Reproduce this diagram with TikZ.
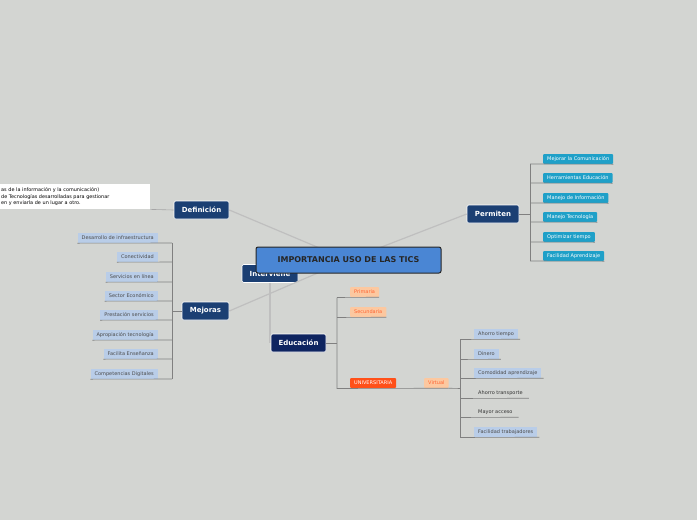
\documentclass[tikz,border=0pt]{standalone}
\usepackage{fontspec}
\setmainfont{DejaVu Sans}
\definecolor{nav}{HTML}{1B3F73}
\definecolor{edc}{HTML}{0E2460}
\definecolor{cenc}{HTML}{4A86D4}
\definecolor{orf}{HTML}{FCC8A0}
\definecolor{ort}{HTML}{FF6432}
\definecolor{uni}{HTML}{FF5019}
\definecolor{lbl}{HTML}{B9CDE8}
\definecolor{tql}{HTML}{1FA0C8}
\definecolor{bgc}{HTML}{D3D5D2}
\begin{document}
\begin{tikzpicture}[x=1pt,y=-1pt,
  main/.style={draw=white,line width=0.6pt,rounded corners=1.5pt,fill=#1,text=white,font=\fontsize{7}{8}\selectfont\bfseries,minimum height=18pt,inner xsep=5pt},
  main/.default=nav,
  leaf/.style={fill=#1,font=\fontsize{5}{6}\selectfont,text=black!70,minimum height=10pt,inner xsep=4pt,inner ysep=1pt},
  leaf/.default=lbl,
  tq/.style={leaf=tql,text=white,rounded corners=1pt},
  og/.style={leaf=orf,text=ort,rounded corners=1pt},
  ln/.style={draw=black!50,line width=0.6pt},
  hub/.style={draw=black!25,line width=1.2pt}]
\fill[bgc] (0,0) rectangle (697,520);
\coordinate (c) at (348,260);
\node[main=nav,minimum width=56pt] (int) at (270,273.5) {Interviene};
\node[main=nav,minimum width=55pt] (def) at (201.5,210) {Definición};
\node[main=nav,minimum width=47pt] (mej) at (205.5,311) {Mejoras};
\node[main=nav,minimum width=52pt] (per) at (493,214) {Permiten};
\coordinate (ec) at (270,343);
\draw[hub] (int.south) -- (ec);
\node[main=edc,minimum width=55pt] (edu) at (298.5,343) {Educación};
\draw[hub] (c) -- (def.east);
\draw[hub] (c) -- (mej.east);
\draw[hub] (c) -- (per.west);
\draw[hub] (c) -- (int.north);
\node[draw=black!85,line width=1pt,rounded corners=2pt,fill=cenc,font=\fontsize{8}{9}\selectfont\bfseries,text=black!85,minimum width=185pt,minimum height=26pt] (cen) at (348.5,260) {IMPORTANCIA USO DE LAS TICS};
\node[fill=white,anchor=north west,text width=148pt,minimum height=25pt,align=left,font=\fontsize{4.9}{6.2}\selectfont,inner xsep=1pt] (dtx) at (0,184) {as de la información y la comunicación)\\de Tecnologías desarrolladas para gestionar\\en y enviarla de un lugar a otro.};
\draw[ln,draw=black!35] (dtx.south east) -- (def.west);
% Mejoras
\coordinate (mb) at (172,311);
\draw[ln] (mej.west) -- (mb);
\foreach \t/\y [count=\i] in {Desarrollo de infraestructura/238,Conectividad/257,Servicios en línea/277,Sector Económico/296,Prestación servicios/315,Apropiación tecnología/335,Facilita Enseñanza/354,Competencias Digitales/374}{
  \node[leaf,anchor=east] (m\i) at (158,\y) {\t};
  \draw[ln] (m\i.south west) -- (172,\y+5);
}
\draw[ln] (172,243) -- (172,379);
% Permiten
\draw[ln] (per.east) -- (530,214);
\foreach \t/\y [count=\i] in {Mejorar la Comunicación/159,Herramientas Educación/178,Manejo de Información/198,Manejo Tecnología/217,Optimizar tiempo/237,Facilidad Aprendizaje/256}{
  \node[tq,anchor=west] (p\i) at (543,\y) {\t};
  \draw[ln] (p\i.south east) -- (530,\y+5);
}
\draw[ln] (530,164) -- (530,261);
% Educacion
\draw[ln] (edu.east) -- (337,343);
\node[og,anchor=west] (e1) at (350,292) {Primaria};
\node[og,anchor=west] (e2) at (350,312) {Secundaria};
\node[leaf=uni,text=white,anchor=west,rounded corners=1pt] (e3) at (350,383) {UNIVERSITARIA};
\node[og,anchor=west] (vir) at (424,383) {Virtual};
\draw[ln] (e1.south east) -- (337,297.5);
\draw[ln] (e2.south east) -- (337,317.5);
\draw[ln] (337,297.5) -- (337,388.5) -- (vir.south east);
\draw[ln] (vir.south east) -- (460,388.5);
\draw[ln] (460,339.5) -- (460,437.5);
\foreach \t/\y/\f [count=\i] in {Ahorro tiempo/334/1,Dinero/354/1,Comodidad aprendizaje/373/1,Ahorro transporte/393/0,Mayor acceso/412/0,Facilidad trabajadores/432/1}{
  \ifnum\f=1
    \node[leaf,anchor=west] (v\i) at (474,\y) {\t};
  \else
    \node[leaf=bgc,text=black!80,anchor=west] (v\i) at (474,\y) {\t};
  \fi
  \draw[ln] (460,\y+5.5) -- ([xshift=2pt]v\i.south east);
}
\end{tikzpicture}
\end{document}
